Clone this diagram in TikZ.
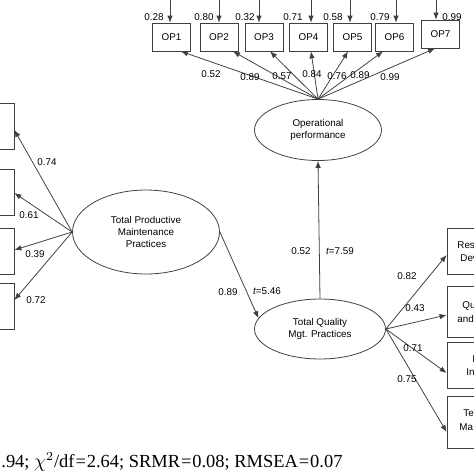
\documentclass[tikz,border=0pt]{standalone}
\usepackage{fontspec}
\setmainfont{Liberation Sans}
\newfontfamily\serifnums{Liberation Serif}
\usetikzlibrary{arrows.meta,calc,positioning,shapes.geometric}

\tikzset{
  lbl/.style={inner sep=0pt,font=\fontsize{5.6}{6.8}\selectfont},
  obs/.style={draw,rectangle,inner sep=0pt,minimum width=0.76cm,minimum height=0.56cm,font=\fontsize{5.6}{6.8}\selectfont},
  side/.style={draw,rectangle,inner sep=0pt,minimum width=1.08cm,minimum height=0.92cm},
  lat/.style={draw,ellipse,inner sep=0pt,align=center,font=\fontsize{5.6}{6.8}\selectfont},
  path/.style={-{Latex[length=1.4mm,width=1.1mm]},line width=0.45pt}
}

\begin{document}
\begin{tikzpicture}[x=0.02cm,y=-0.02cm,line width=0.45pt,draw=black!75]
    \useasboundingbox (0,0) rectangle (474,474);
    \clip (0,0) rectangle (474,474);

    % latent variables
    \node[lat,minimum width=2.54cm,minimum height=1.22cm] (op) at (318,130) {Operational\\performance};
    \node[lat,minimum width=2.94cm,minimum height=1.68cm] (tpm) at (146,232) {Total Productive\\Maintenance\\Practices};
    \node[lat,minimum width=2.62cm,minimum height=1.20cm] (tqm) at (320,329) {Total Quality\\Mgt. Practices};

    % operational performance items
    \foreach \i/\x in {1/171.5,2/219,3/264,4/308.5,5/352.5,6/394.5}
      \node[obs] (op\i) at (\x,37) {OP\i};
    \node[obs] (op7) at (440.5,34) {OP7};

    % error terms
    \foreach \i/\x/\e/\ex in {1/170/0.28/154,2/219/0.80/204,3/259/0.32/245,4/311/0.71/293,5/350/0.58/333,6/396/0.79/380,7/436/0.99/452} {
      \coordinate (e\i) at (\x,0);
      \draw[path] (e\i) -- (e\i |- op\i.north);
      \node[lbl] (err\i) at (\ex,17) {\e};
    }

    % loadings on operational performance
    \foreach \i/\s/\v/\lx/\ly in {1/9.5/0.52/211/74,2/14/0.89/250/77,3/6/0.57/282/76,4/2.5/0.84/312/74,5/-4.5/0.76/337/76,6/-11.5/0.89/360/75,7/-5.5/0.99/390/77} {
      \draw[path] (op.north) -- ([xshift=\s*0.02cm]op\i.south);
      \node[lbl] (ld\i) at (\lx,\ly) {\v};
    }

    % TPM indicators (cut off at left edge)
    \node[side] (tp1) at (-13,126.5) {};
    \node[side] (tp2) at (-13,192) {};
    \node[side] (tp3) at (-13,251) {};
    \node[side] (tp4) at (-13,306) {};
    \draw[path] (tpm.west) -- ([yshift=-3.5*0.02cm]tp1.east);
    \draw[path] (tpm.west) -- ([yshift=-1*0.02cm]tp2.east);
    \draw[path] (tpm.west) -- ([yshift=1*0.02cm]tp3.east);
    \draw[path] (tpm.west) -- ([yshift=6*0.02cm]tp4.east);
    \node[lbl] (w1) at (47,162) {0.74};
    \node[lbl] (w2) at (29,215) {0.61};
    \node[lbl] (w3) at (35,254) {0.39};
    \node[lbl] (w4) at (36,300) {0.72};

    % TQM indicators (cut off at right edge)
    \node[side,minimum width=1.4cm,minimum height=0.92cm] (tq1) at (482,251) {};
    \node[side,minimum width=1.4cm,minimum height=1.02cm] (tq2) at (482,311.5) {};
    \node[side,minimum width=1.4cm,minimum height=0.92cm] (tq3) at (482,365) {};
    \node[side,minimum width=1.4cm,minimum height=1.04cm] (tq4) at (482,422) {};
    \node[lbl,anchor=west] (tq1a) at (457,245) {Res};
    \node[lbl,anchor=west] (tq1b) at (460,258) {Dev};
    \node[lbl,anchor=west] (tq2a) at (462,306) {Qu};
    \node[lbl,anchor=west] (tq2b) at (457,319) {and};
    \node[lbl,anchor=west] (tq3a) at (472,359) {I};
    \node[lbl,anchor=west] (tq3b) at (466,372) {In};
    \node[lbl,anchor=west] (tq4a) at (463,413) {Te};
    \node[lbl,anchor=west] (tq4b) at (459,427) {Ma};
    \draw[path] (tqm.east) -- ([yshift=-4*0.02cm]tq1.west);
    \draw[path] (tqm.east) -- ([yshift=-3.5*0.02cm]tq2.west);
    \draw[path] (tqm.east) -- ([yshift=-8*0.02cm]tq3.west);
    \draw[path] (tqm.east) -- ([yshift=-10*0.02cm]tq4.west);
    \node[lbl] (v1) at (407,276) {0.82};
    \node[lbl] (v2) at (415,308) {0.43};
    \node[lbl] (v3) at (413,348) {0.71};
    \node[lbl] (v4) at (407,379) {0.75};

    % structural paths
    \draw[path] (tpm.east) -- (tqm.170);
    \node[lbl] (b1) at (228,292) {0.89};
    \node[lbl] (t1) at (267,291) {\itshape t\upshape=5.46};
    \draw[path] (tqm.north) -- (op.south);
    \node[lbl] (b2) at (301,251) {0.52};
    \node[lbl] (t2) at (340,251) {\itshape t\upshape=7.59};

    % fit indices
    \node[anchor=base west,inner sep=0pt,font=\serifnums\fontsize{10.5}{12}\selectfont] (fit) at (1,467)
      {.94; $\chi^2$/df\kern.05em=\kern.05em2.64; SRMR\kern.05em=\kern.05em0.08; RMSEA\kern.05em=\kern.05em0.07};
\end{tikzpicture}
\end{document}
